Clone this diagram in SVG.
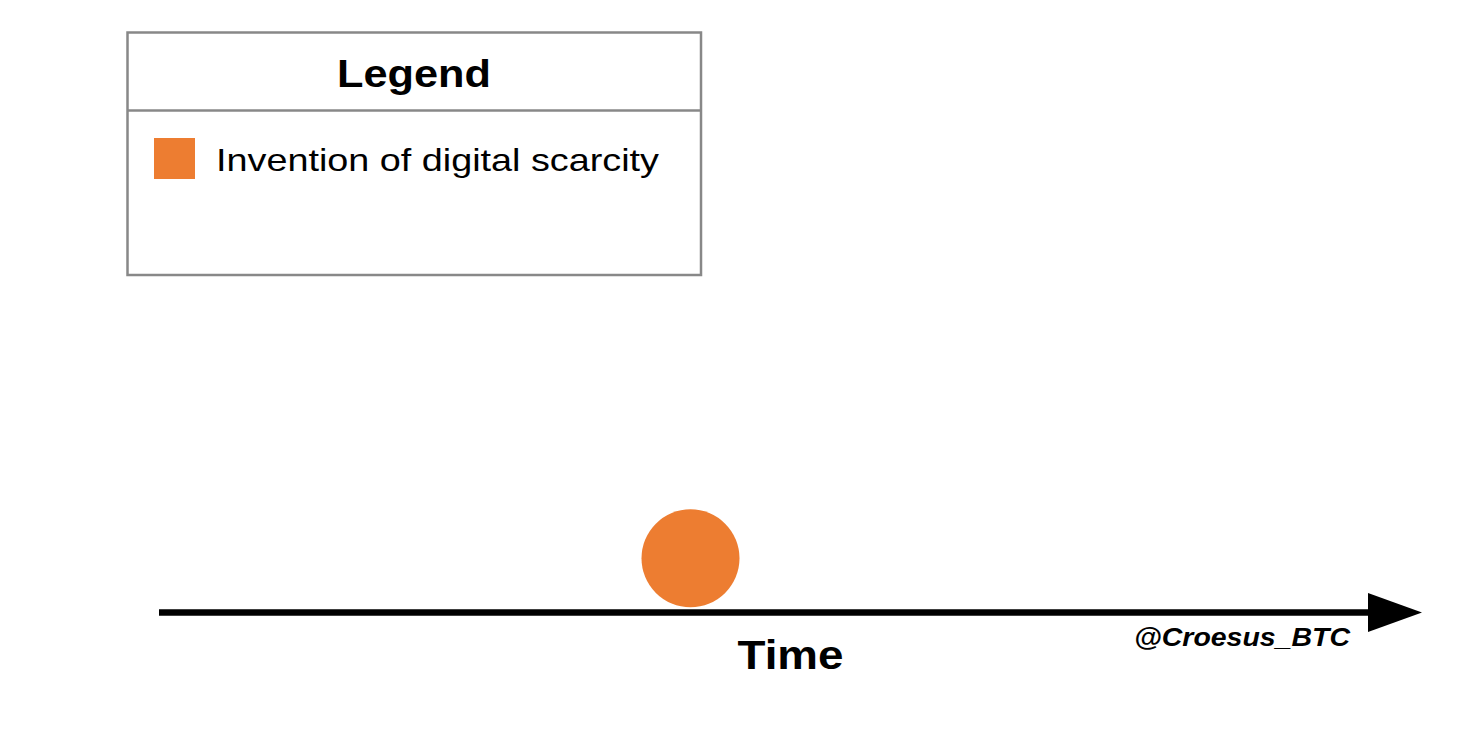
<svg xmlns="http://www.w3.org/2000/svg" width="1479" height="741" viewBox="0 0 1479 741">
<style>
.box{fill:#fff;stroke:#888;stroke-width:2.5}
.t{font-family:"Liberation Sans","DejaVu Sans",sans-serif;fill:#000}
.b{font-weight:bold}
.orange{fill:#ED7D31}
</style>
<defs>
<marker id="arr" markerUnits="userSpaceOnUse" markerWidth="56" markerHeight="40" refX="1" refY="19.5" orient="auto">
<polygon points="0,0 54,19.5 0,39" fill="#000"/>
</marker>
</defs>
<rect width="1479" height="741" fill="#fff"/>
<g id="legend">
<rect class="box" x="127.5" y="32.5" width="573.5" height="242.5"/>
<line x1="127.5" y1="110.5" x2="701" y2="110.5" stroke="#888" stroke-width="2.5"/>
<text class="t b" x="414" y="87" font-size="39" text-anchor="middle" textLength="154" lengthAdjust="spacingAndGlyphs">Legend</text>
<rect class="orange" x="154" y="138" width="41" height="41"/>
<text class="t" x="216" y="171" font-size="32" textLength="443" lengthAdjust="spacingAndGlyphs">Invention of digital scarcity</text>
</g>
<g id="connectors">
<line x1="159" y1="612.5" x2="1369" y2="612.5" stroke="#000" stroke-width="6.5" marker-end="url(#arr)"/>
</g>
<g id="event">
<circle class="orange" cx="690.5" cy="558.3" r="49"/>
</g>
<g id="labels">
<text class="t b" x="790.5" y="669" font-size="41" text-anchor="middle" textLength="106" lengthAdjust="spacingAndGlyphs">Time</text>
<text class="t b" x="1134" y="646" font-size="26" font-style="italic" textLength="216" lengthAdjust="spacingAndGlyphs">@Croesus_BTC</text>
</g>
</svg>
